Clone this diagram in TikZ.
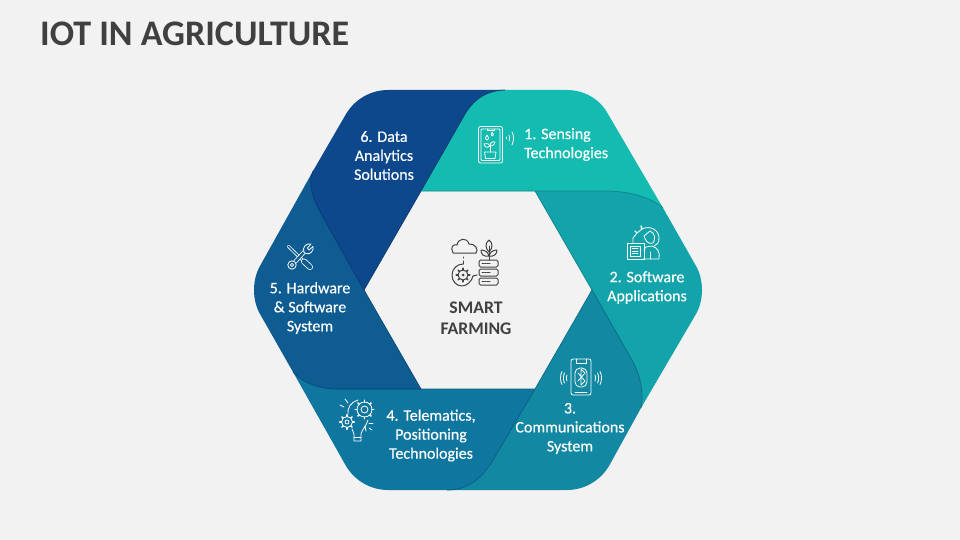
\documentclass[tikz,border=0pt]{standalone}
\usepackage{fontspec}
\setmainfont{Carlito}
\definecolor{pagegray}{HTML}{F2F2F2}
\definecolor{inkgray}{HTML}{404040}
\definecolor{segone}{HTML}{14BBB0}
\definecolor{segtwo}{HTML}{13A4AB}
\definecolor{segthree}{HTML}{1288A2}
\definecolor{segfour}{HTML}{0F76A0}
\definecolor{segfive}{HTML}{0F5C92}
\definecolor{segsix}{HTML}{0E488C}
\tikzset{
  steplabel/.style={text=white,align=center,inner sep=0pt,font=\fontsize{16}{19}\selectfont\addfontfeature{FakeBold=.35}},
  iconwhite/.style={draw=white,line width=.8pt,line cap=round,line join=round},
  icongray/.style={draw=inkgray,line width=1pt,line cap=round,line join=round}
}
% a ring of short teeth round a wheel
\newcommand{\toothring}[4]{
  \draw[#1] (#2,#3) circle (#4pt);
  \foreach \a in {0,45,...,315}
    \draw[#1,line width=1.5pt] ($(#2,#3)+(\a:#4pt)$) -- ($(#2,#3)+(\a:#4pt+1.8pt)$);
}
\usetikzlibrary{calc}
\begin{document}
\begin{tikzpicture}[x=1pt,y=-1pt]
\useasboundingbox (0,0) rectangle (960,540);
\fill[pagegray] (0,0) rectangle (960,540);
% the six bands, each laid over the one before
\fill[segone] (421,191) -- (465,114) .. controls (475,97) and (490,90) .. (505,90) -- (567,90) .. controls (584,90) and (600,99) .. (608,114) -- (663,208) -- (620,225) -- (535,191) -- cycle;
\fill[segtwo] (535,191) -- (605,191) .. controls (630,191) and (652,198) .. (663,208) -- (696,266) .. controls (704,280) and (704,300) .. (696,314) -- (641,408) -- (610,400) -- (592,290) -- cycle;
\fill[segthree] (592,290) -- (632,360) .. controls (640,374) and (644,392) .. (641,408) -- (609,466) .. controls (600,481) and (584,490) .. (567,490) -- (447,490) -- (470,440) -- (535,389) -- cycle;
\fill[segfour] (535,389) -- (493,460) .. controls (480,482) and (465,490) .. (447,490) -- (388,490) .. controls (371,490) and (355,481) .. (346,466) -- (293,372) -- (320,365) -- (421,389) -- cycle;
\fill[segfive] (364,290) -- (421,389) -- (337,389) .. controls (320,389) and (303,383) .. (293,372) -- (260,314) .. controls (252,300) and (252,280) .. (260,266) -- (313,171) -- (340,171) -- cycle;
\fill[segsix] (364,290) -- (421,191) -- (465,114) .. controls (475,97) and (490,90) .. (505,90) -- (388,90) .. controls (371,90) and (355,99) .. (346,114) -- (313,171) .. controls (308,183) and (312,195) .. (318,208) -- cycle;
% the darker edges where the bands meet
\draw[segsix!80!black,line width=.7pt] (505,90) .. controls (490,90) and (475,97) .. (465,114) -- (421,191) -- (364,290);
\draw[segsix!80!black,line width=.7pt] (313,171) .. controls (308,183) and (312,195) .. (318,208) -- (364,290);
\draw[segtwo!80!black,line width=.7pt] (421,191) -- (605,191) .. controls (630,191) and (652,198) .. (663,208);
\draw[segtwo!80!black,line width=.7pt] (535,191) -- (592,290);
\draw[segthree!80!black,line width=.7pt] (535,389) -- (592,290) -- (632,360) .. controls (640,374) and (644,392) .. (641,408);
\draw[segfour!80!black,line width=.7pt] (337,389) -- (535,389) -- (493,460) .. controls (480,482) and (465,490) .. (447,490);
\draw[segfive!80!black,line width=.7pt] (364,290) -- (421,389) -- (337,389) .. controls (320,389) and (303,383) .. (293,372);
% the texts
\node[text=inkgray,anchor=west,inner sep=0pt,font=\fontsize{36}{40}\selectfont\bfseries] (title) at (40,34) {IOT IN AGRICULTURE};
\node[text=inkgray,align=center,font=\fontsize{17.7}{21}\selectfont\bfseries] (hub) at (476,318) {SMART\\FARMING};
\node[steplabel,align=left,anchor=west] (sensing) at (524,144.5) {1. Sensing\\Technologies};
\node[steplabel] (software) at (647,287.5) {2. Software\\Applications};
\node[steplabel] (comms) at (570,428.5) {3.\\Communications\\System};
\node[steplabel] (telematics) at (431,435.5) {4. Telematics,\\Positioning\\Technologies};
\node[steplabel] (hardware) at (310,308) {5. Hardware\\\& Software\\System};
\node[steplabel] (analytics) at (384,155.5) {6. Data\\Analytics\\Solutions};
% icon of the hub: cloud, wheel, server, plant
\draw[icongray] (453,253) .. controls (450,247) and (453,244) .. (457,245) .. controls (458,238) and (467,237) .. (469,244) .. controls (475,243) and (479,250) .. (476,253) -- cycle;
\draw[icongray] (463,257) -- (463,258) (463,261) -- (463,264);
\draw[icongray] (477,275) -- (473,276) .. controls (472,281) and (467,286) .. (462,286) .. controls (456,286) and (452,281) .. (452,275) .. controls (452,269) and (457,264) .. (463,264);
\toothring{icongray}{463}{275}{5}
\fill[inkgray] (463,275) circle (1.5pt);
\foreach \y in {260,269,278} {
  \draw[icongray,rounded corners=1.5pt] (479,\y) rectangle (498,\y+7);
  \draw[icongray,dash pattern=on 1.5pt off 1pt] (482,\y+3.5) -- (490,\y+3.5);
}
\draw[icongray] (489,260) -- (489,246);
\draw[icongray] (489,240) .. controls (485,243) and (485,248) .. (489,252) .. controls (493,248) and (493,243) .. (489,240);
\draw[icongray] (489,256) .. controls (483,257) and (481,254) .. (481,250) .. controls (485,250) and (488,252) .. (489,256) .. controls (494,257) and (497,254) .. (497,250) .. controls (493,250) and (490,252) .. (489,256);
% icon of band 1: phone with a potted plant
\draw[iconwhite,rounded corners=2pt] (478.5,126.5) rectangle (502.5,163);
\draw[iconwhite,rounded corners=1pt] (481,129) rectangle (500,160.5);
\draw[iconwhite] (487,129) -- (487,130.5) -- (494,130.5) -- (494,129);
\draw[iconwhite] (484.5,152) -- (496,152) -- (495,158.5) -- (485.5,158.5) -- cycle;
\draw[iconwhite] (490,152) -- (490,146);
\draw[iconwhite] (490,146) .. controls (486,149) and (484,146) .. (484,144) .. controls (487,143) and (490,144) .. (490,146) .. controls (494,146) and (495,143) .. (495,142) .. controls (492,141) and (490,143) .. (490,146);
\draw[iconwhite] (487,135) .. controls (485,138) and (485,140) .. (487,140) .. controls (489,140) and (489,138) .. (487,135);
\draw[iconwhite] (492,132) .. controls (491,134) and (491,136) .. (492,136) .. controls (494,136) and (494,134) .. (492,132);
\draw[iconwhite] (506,137) -- (506,139);
\draw[iconwhite] (509,135) .. controls (510,137) and (510,139) .. (509,141);
\draw[iconwhite] (512,132) .. controls (514,136) and (514,140) .. (512,145);
% icon of band 2: person at a screen, with a gear
\draw[iconwhite] (627,243) rectangle (644,259);
\draw[iconwhite] (630,246) rectangle (640,256);
\foreach \y in {248.5,251,253.5}
  \draw[iconwhite,line width=.5pt] (632,\y) -- (638,\y);
\draw[iconwhite] (633,243) -- (633,238) -- (637,233) -- (642,229) .. controls (650,225) and (659,230) .. (659,238) .. controls (659,243) and (657,245) .. (654,246);
\draw[iconwhite,line width=1.4pt] (637,233) -- (635,231) (642,229) -- (641,226);
\draw[iconwhite] (650,231) .. controls (655,233) and (656,239) .. (653,243) .. controls (648,245) and (645,240) .. (644,236) -- (650,231);
\draw[iconwhite] (644,259) -- (659,259) .. controls (660,252) and (658,248) .. (652,246) -- (646,247) -- (644,250);
\draw[iconwhite] (650,252) -- (650,259);
% icon of band 3: phone with bluetooth waves
\draw[iconwhite,rounded corners=2pt] (571,359) rectangle (591,395);
\draw[iconwhite] (576,359) -- (576,363) -- (586,363) -- (586,359);
\draw[iconwhite] (575,392) -- (587,392);
\draw[iconwhite,rounded corners=5pt] (575,368) rectangle (587,387);
\draw[iconwhite] (578,373) -- (585,381) -- (581,385) -- (581,369) -- (585,373) -- (578,381);
\foreach \s in {-1,1} {
  \begin{scope}[shift={(581,378)},xscale=\s]
    \draw[iconwhite] (14,-3) .. controls (15,-1) and (15,1) .. (14,3);
    \draw[iconwhite] (16.5,-5) .. controls (18,-2) and (18,2) .. (16.5,5);
    \draw[iconwhite] (19,-6.5) .. controls (21,-3) and (21,3) .. (19,6.5);
  \end{scope}
}
% icon of band 4: bulb with two gears and rays
\toothring{iconwhite}{364.5}{409.5}{7.5}
\draw[iconwhite] (364.5,409.5) circle (3.5pt);
\toothring{iconwhite}{347}{422}{5.5}
\draw[iconwhite] (347,422) circle (2pt);
\draw[iconwhite] (358,400) .. controls (351,402) and (347,408) .. (348,414);
\draw[iconwhite] (352,429) -- (354,434) -- (354,441) -- (361,441) -- (361,434) .. controls (362,429) and (366,427) .. (368,420);
\draw[iconwhite] (354,437.5) -- (361,437.5);
\foreach \xa/\ya/\xb/\yb in {340/405/344/407,345/399/348/403,365/426/366/431,369/428/372/430,369/423/373/423}
  \draw[iconwhite] (\xa,\ya) -- (\xb,\yb);
% icon of band 5: crossed spanner and screwdriver
\draw[white,line width=3pt,line cap=round] (288.5,246.5) -- (302,259.5);
\draw[segfive,line width=1.4pt,line cap=round] (288.5,246.5) -- (302,259.5);
\draw[white,line width=6pt,line cap=round] (304,261.5) -- (310,267);
\draw[segfive,line width=4.4pt,line cap=round] (304,261.5) -- (310,267);
\draw[white,line width=4pt] (295,262) -- (305,251);
\draw[segfive,line width=2.4pt] (295,262) -- (305,251);
\draw[iconwhite,fill=segfive] (292,265) circle (4.2pt);
\draw[iconwhite] (292,265) circle (1.6pt);
\draw[iconwhite,fill=segfive] (304,252.5) .. controls (302,247) and (306,243) .. (311,244) -- (307.5,248) -- (309,250) -- (313,246.5) .. controls (314,251) and (310,255) .. (306,253.5) -- cycle;
\end{tikzpicture}
\end{document}
